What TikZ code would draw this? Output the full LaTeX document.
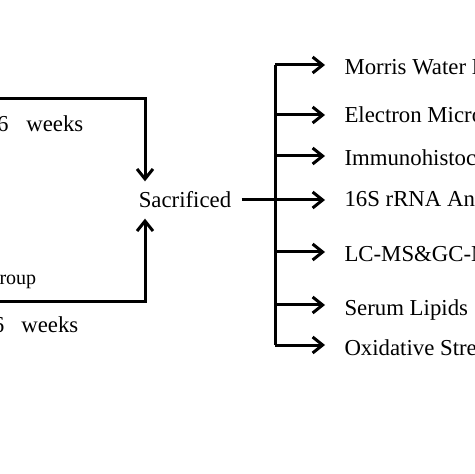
\documentclass[tikz,border=0pt]{standalone}
\usepackage{fontspec}
\setmainfont{Liberation Serif}
\usetikzlibrary{arrows.meta, positioning}

\begin{document}
\begin{tikzpicture}[
        x=0.5pt, y=-0.5pt,
        >={Straight Barb[length=5pt,width=8pt]},
        line width=1.5pt,
        every node/.style={font=\fontsize{11.4}{13}\selectfont, inner sep=0pt},
        label/.style={anchor=base west},
        hub/.style={inner sep=4.5pt}
    ]
    \useasboundingbox (0,0) rectangle (474,474);
    \clip (0,0) rectangle (474,474);

    % Left groups, cut by the frame
    \coordinate (tl) at (-20,99);
    \coordinate (tr) at (145,99);
    \coordinate (bl) at (-20,302);
    \coordinate (br) at (145,302);

    \node[hub] (sac) at (185,200) {Sacrificed};

    \draw[->] (tl) -- (tr) -- (sac.north -| tr);
    \draw[->] (bl) -- (br) -- (sac.south -| br);

    \node[label] (wk1) at (-4.5,132) {6\hspace{9pt}weeks};
    \node[label, font=\fontsize{10}{12}\selectfont] (grp) at (-12,285) {group};
    \node[label] (wk2) at (-8.5,332) {6\hspace{8.5pt}weeks};

    % Fork to the analyses
    \coordinate (fork) at (275,200);
    \coordinate (st) at (275,65);
    \coordinate (sb) at (275,345);
    \draw (sac.east) -- (fork);
    \draw[line cap=square] (st) -- (sb);

    \foreach \name/\y/\b/\txt in {
            mwm/65/75/Morris Water Maze,
            elm/115/123/Electron Microscopy,
            ihc/156/166/Immunohistochemistry,
            rna/200/207/16S rRNA Analysis,
            lcms/252/262/LC-MS\&GC-MS,
            lip/305/315/Serum Lipids,
            ox/345/355/Oxidative Stress} {
        \coordinate (\name-in) at (275,\y);
        \node[label] (\name) at (343,\b) {\txt};
        \draw[->, shorten >=9pt] (\name-in) -- (\name.west |- \name-in);
    }

\end{tikzpicture}
\end{document}
